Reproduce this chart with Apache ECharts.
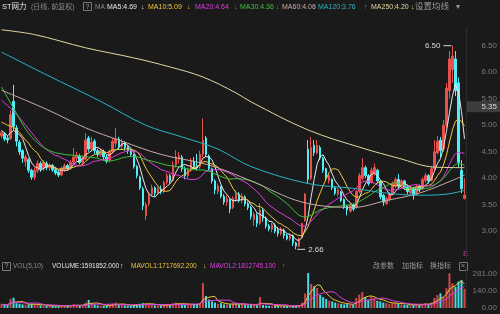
<!DOCTYPE html>
<html><head><meta charset="utf-8">
<script src="https://cdn.jsdelivr.net/npm/echarts/dist/echarts.min.js"></script>
<style>html,body{margin:0;padding:0;background:#1a1a1a;}#c{width:500px;height:314px;}</style>
</head><body><div id="c"></div>
<script>
// [open, close, low, high]
const ohlc = [
[4.80,4.86,4.76,4.90],[4.84,4.74,4.70,4.87],[4.76,4.72,4.66,4.80],[4.75,5.20,4.72,5.28],[5.45,4.98,4.90,5.76],
[4.95,4.70,4.60,5.00],[4.68,4.50,4.44,4.72],[4.52,4.38,4.29,4.55],[4.32,4.40,4.22,4.45],[4.35,4.15,4.10,4.38],
[4.15,4.02,3.97,4.18],[4.02,4.15,3.97,4.20],[4.14,4.28,4.10,4.34],[4.28,4.18,4.12,4.32],[4.18,4.30,4.14,4.34],
[4.28,4.20,4.15,4.32],[4.20,4.25,4.14,4.28],[4.24,4.16,4.12,4.27],[4.16,4.10,4.06,4.20],[4.12,4.06,4.02,4.15],
[4.06,4.18,4.04,4.22],[4.16,4.24,4.12,4.28],[4.24,4.18,4.14,4.27],[4.18,4.30,4.16,4.34],[4.30,4.40,4.26,4.57],
[4.38,4.44,4.32,4.50],[4.42,4.30,4.26,4.46],[4.30,4.38,4.24,4.42],[4.36,4.72,4.34,4.85],[4.76,4.55,4.50,4.80],
[4.55,4.68,4.50,4.78],[4.70,4.52,4.46,4.74],[4.52,4.45,4.40,4.56],[4.44,4.52,4.40,4.56],[4.50,4.40,4.34,4.54],
[4.40,4.32,4.28,4.44],[4.34,4.50,4.30,4.54],[4.50,4.70,4.46,4.76],[4.66,4.74,4.58,4.95],[4.74,4.60,4.55,4.78],
[4.60,4.68,4.54,4.74],[4.66,4.58,4.52,4.70],[4.60,4.52,4.46,4.62],[4.52,4.45,4.40,4.55],[4.44,4.22,4.18,4.46],
[4.22,4.05,4.00,4.25],[4.02,3.82,3.78,4.05],[3.80,3.48,3.40,3.84],[3.30,3.50,3.21,3.55],[3.52,3.70,3.48,3.74],
[3.70,3.82,3.66,3.88],[3.82,3.72,3.66,3.85],[3.72,3.80,3.68,3.84],[3.80,3.74,3.70,3.86],[3.76,3.92,3.72,3.96],
[3.92,4.05,3.88,4.10],[4.05,3.95,3.90,4.08],[3.96,4.25,3.94,4.32],[4.25,4.40,4.20,4.53],[4.36,4.42,4.28,4.50],
[4.40,4.18,4.12,4.44],[4.18,4.05,3.98,4.22],[4.05,4.15,4.00,4.20],[4.15,4.32,4.12,4.38],[4.32,4.22,4.18,4.40],
[4.24,4.20,4.15,4.46],[4.22,4.45,4.18,4.52],[4.45,4.72,4.40,5.13],[4.76,4.45,4.40,4.80],[4.42,4.18,4.15,4.45],
[4.18,3.95,3.90,4.20],[3.95,3.78,3.70,3.98],[3.75,3.85,3.70,3.90],[3.84,3.66,3.62,3.86],[3.66,3.55,3.50,3.70],
[3.55,3.62,3.48,3.68],[3.60,3.42,3.34,3.62],[3.45,3.62,3.42,3.66],[3.60,3.70,3.55,3.77],[3.70,3.58,3.54,3.74],
[3.58,3.66,3.53,3.72],[3.65,3.52,3.47,3.68],[3.52,3.45,3.40,3.56],[3.45,3.28,3.22,3.48],[3.22,3.32,3.10,3.36],
[3.30,3.15,3.08,3.34],[3.15,3.40,3.12,3.53],[3.40,3.25,3.18,3.44],[3.25,3.10,3.05,3.28],[3.10,3.04,3.00,3.14],
[3.04,3.12,2.98,3.16],[3.12,3.00,2.96,3.15],[3.02,2.96,2.90,3.08],[2.96,3.04,2.92,3.08],[3.02,2.92,2.86,3.05],
[2.92,2.86,2.83,2.95],[2.86,2.92,2.82,2.96],[2.92,2.78,2.72,2.94],[2.78,2.72,2.66,2.80],[2.72,2.86,2.70,2.88],
[2.88,3.15,2.86,3.16],[3.20,3.70,3.18,3.72],[4.55,3.98,3.90,4.72],[4.00,4.58,3.96,4.78],[4.62,4.48,4.42,4.72],
[4.48,4.62,4.45,4.72],[4.58,4.38,4.34,4.62],[4.38,4.15,4.10,4.40],[4.18,4.00,3.95,4.20],[3.95,4.05,3.90,4.10],
[3.98,3.82,3.78,4.00],[3.82,3.72,3.68,3.85],[3.70,3.78,3.66,3.82],[3.74,3.58,3.55,3.76],[3.60,3.45,3.42,3.62],
[3.48,3.40,3.30,3.50],[3.38,3.50,3.35,3.54],[3.50,3.42,3.38,3.53],[3.45,3.75,3.43,3.78],[3.75,4.05,3.72,4.10],
[4.00,4.20,3.96,4.38],[4.20,4.05,4.00,4.24],[4.05,3.90,3.86,4.08],[3.92,4.15,3.90,4.20],[4.10,4.20,4.05,4.28],
[4.15,3.95,3.90,4.18],[3.95,3.65,3.60,3.97],[3.68,3.55,3.48,3.70],[3.52,3.62,3.50,3.66],[3.60,3.70,3.56,3.74],
[3.70,3.90,3.68,3.94],[3.85,3.98,3.82,4.02],[3.98,3.85,3.80,4.08],[3.85,3.95,3.82,3.98],[3.95,3.82,3.78,3.97],
[3.85,3.75,3.70,3.88],[3.72,3.82,3.70,3.86],[3.82,3.68,3.60,3.84],[3.70,3.85,3.68,3.88],[3.85,3.78,3.74,3.88],
[3.80,3.98,3.78,4.02],[3.96,4.05,3.92,4.10],[4.05,3.95,3.90,4.08],[3.96,4.18,3.94,4.22],[4.18,4.50,4.15,4.72],
[4.48,4.70,4.45,4.80],[4.72,4.52,4.40,4.78],[4.55,5.00,4.50,5.10],[5.00,5.70,4.95,5.80],[5.65,6.25,5.50,6.40],
[6.05,6.30,5.80,6.50],[6.25,5.65,5.55,6.40],[5.80,4.30,4.20,5.90],[4.15,3.80,3.72,4.34],[3.62,3.68,3.60,4.00]
];
// volume (10k shares)
const volumes = [
30,28,25,75,85,40,35,30,28,30,35,32,
25,22,20,18,20,18,15,16,20,22,18,20,30,25,20,22,
45,66,40,30,22,20,18,20,
28,35,45,30,25,22,20,18,
25,30,35,40,38,
30,28,22,20,22,25,30,25,
40,45,35,30,25,28,35,30,28,40,
206,99,70,55,45,
35,40,30,28,30,35,40,30,32,25,22,
30,25,22,90,25,20,18,20,18,16,18,15,16,14,18,20,
25,45,120,289,200,180,165,107,90,75,60,
55,45,40,35,30,32,28,25,
83,110,132,90,70,95,80,
60,55,45,40,35,40,45,
35,30,28,25,22,28,30,25,35,40,30,45,
83,107,121,94,163,286,204,176,218,231,159.19
];
// MA values before a full window exists
const ma5Lead = [4.90,4.86,4.80,4.86];
const ma10Lead = [5.06,5.03,5.00,4.98,4.96,4.92,4.86,4.79,4.72];
const ma20Lead = [5.47,5.42,5.37,5.32,5.26,5.20,5.14,5.07,5.00,4.93,4.86,4.79,4.72,4.65,4.59,4.54,4.50,4.46,4.43];
const ma30Lead = [5.72,5.62,5.52,5.42,5.32,5.22,5.12,5.02,4.93,4.85,4.78,4.72,4.67,4.62,4.58,4.55,4.52,4.50,4.48,4.47,4.46,4.45,4.44,4.44,4.43,4.43,4.42,4.42,4.41];
// long MAs at [index, value]
const ma60Pts = [[0,5.66],[15,5.30],[28,4.95],[40,4.70],[53,4.45],[69,4.25],[83,3.95],[100,3.55],[117,3.45],[128,3.58],[139,3.72],[150,3.96],[154,4.06]];
const ma120Pts = [[0,6.38],[15,5.95],[33,5.45],[48,5.00],[60,4.78],[72,4.55],[83,4.22],[102,3.90],[117,3.81],[128,3.72],[139,3.68],[148,3.70],[154,3.77]];
const ma250Pts = [[0,6.80],[11,6.71],[28,6.46],[44,6.27],[56,6.10],[67,5.91],[78,5.61],[83,5.44],[102,4.91],[120,4.57],[132,4.38],[144,4.21],[154,4.20]];
const priceTickLabels = ['3.00','3.50','4.00','4.50','5.00','5.50','6.00','6.50'];
const volTickLabels = ['0.00','140.00','281.00'];
const hoverPrice = 5.35;

const UP='#e8504c', DOWN='#50eef6';
const C5='#e6e6e6', C10='#f0c63a', C20='#e03ee0', C30='#3cc03c', C60='#c9aaa6', C120='#2cb4c4', C250='#e2d8a0';
const FONT='"Liberation Sans","DejaVu Sans","Noto Sans CJK SC",sans-serif';

const closes = ohlc.map(d=>d[1]);
const cats = ohlc.map((d,i)=>String(i));
function maFull(n, lead){ return closes.map((c,i)=>{ if(i<n-1) return lead[i]; let s=0; for(let k=i-n+1;k<=i;k++) s+=closes[k]; return +(s/n).toFixed(3);}); }
function smaPartial(arr,n){ return arr.map((v,i)=>{ const a=arr.slice(Math.max(0,i-n+1),i+1); return +(a.reduce((x,y)=>x+y,0)/a.length).toFixed(2);}); }

const chart = echarts.init(document.getElementById('c'), null, {renderer:'canvas'});

function T(x,y,s,color,size,align){ return {type:'text', x:x, y:y, silent:true, style:{text:s, fill:color, font: size+'px '+FONT, textAlign:align||'left', align:align||'left', textVerticalAlign:'middle', verticalAlign:'middle'}}; }
function box(x,y,w,h,color){ return {type:'rect', shape:{x:x,y:y,width:w,height:h}, silent:true, style:{fill:'none', stroke:color, lineWidth:1}}; }

const graphics = [
  T(2,7,'ST网力','#e8e8e8',7.5),
  T(31,7,'(日线, 前复权)','#8a8a8a',7),
  box(83.5,2.5,8,8,'#777'), T(85.5,7,'?','#999',7),
  T(95,7,'MA','#8a8a8a',6.5),
  T(107,7,'MA5:4.69',C5,7), T(141,7,'↓',C5,7),
  T(148,7,'MA10:5.09',C10,7), T(187,7,'↓',C10,7),
  T(195,7,'MA20:4.64',C20,7), T(234,7,'↓',C20,7),
  T(240,7,'MA30:4.36',C30,7), T(276,7,'↓',C30,7),
  T(282,7,'MA60:4.06',C60,7), T(313,7,'↑',C60,7),
  T(318,7,'MA120:3.76',C120,7), T(364,7,'↑',C120,7),
  T(371,7,'MA250:4.20',C250,7), T(411,7,'↓',C250,7),
  T(415,7,'设置均线','#9a9a9a',8.5), T(456,7,'▾','#9a9a9a',8),
  box(2.5,262.5,8,8,'#777'), T(4.5,266.5,'?','#999',7),
  T(13,266.5,'VOL(5,10)','#8a8a8a',6.5),
  T(52,266.5,'VOLUME:1591852.000','#e6e6e6',6.5), T(120,266.5,'↑','#e6e6e6',7),
  T(131,266.5,'MAVOL1:1717692.200',C10,6.5), T(203,266.5,'↓',C10,7),
  T(210,266.5,'MAVOL2:1812745.100',C20,6.5), T(282,266.5,'↑',C20,7),
  T(373,266.5,'改参数','#9a9a9a',7), T(402,266.5,'加指标','#9a9a9a',7), T(430,266.5,'换指标','#9a9a9a',7),
  box(459.5,262.5,8,8,'#777'), T(461,266.5,'×','#999',7),
  T(463,254,'E','#d0309a',8)
];

const option = {
  backgroundColor:'#1a1a1a',
  animation:false,
  textStyle:{fontFamily:FONT},
  grid:[{left:0,right:34,top:28.2,height:229.6},{left:0,right:34,top:268,height:40}],
  xAxis:[
    {type:'category',data:cats,gridIndex:0,boundaryGap:true,axisLine:{show:false},axisTick:{show:false},axisLabel:{show:false},splitLine:{show:false}},
    {type:'category',data:cats,gridIndex:1,boundaryGap:true,axisLine:{show:false},axisTick:{show:false},axisLabel:{show:false},splitLine:{show:false}}
  ],
  yAxis:[
    {type:'value',gridIndex:0,position:'right',min:2.5,max:6.83,interval:0.5,scale:true,
     axisLine:{show:true,lineStyle:{color:'#2c2c2c'}},axisTick:{show:false},splitLine:{show:false},
     axisLabel:{color:'#7c7c7c',fontSize:8,align:'right',margin:31,showMinLabel:false,showMaxLabel:false,
       formatter:v=>{const k=Math.round((v-3)/0.5); return (k>=0&&k<priceTickLabels.length&&Math.abs(v-3-k*0.5)<1e-6)?priceTickLabels[k]:'';}}},
    {type:'value',gridIndex:1,position:'right',min:0,max:330.6,interval:140.5,
     axisLine:{show:true,lineStyle:{color:'#2c2c2c'}},axisTick:{show:false},splitLine:{show:false},
     axisLabel:{color:'#7c7c7c',fontSize:8,align:'right',margin:31,showMaxLabel:false,
       formatter:v=>{const k=Math.round(v/140.5); return (Math.abs(v-k*140.5)<1e-6&&k<volTickLabels.length)?volTickLabels[k]:'';}}}
  ],
  series:[
    {type:'candlestick',name:'K',xAxisIndex:0,yAxisIndex:0,data:ohlc,barWidth:2,
     itemStyle:{color:UP,color0:DOWN,borderColor:UP,borderColor0:DOWN,borderWidth:1},
     markPoint:{symbol:'rect',symbolSize:[8,1],silent:true,
       itemStyle:{color:'#d8d8d8'},
       label:{color:'#d8d8d8',fontSize:8,fontFamily:FONT,distance:3},
       data:[
        {type:'max',valueDim:'highest',symbolOffset:[-5,0],label:{show:true,position:'left',formatter:p=>Number(p.value).toFixed(2)}},
        {type:'min',valueDim:'lowest',symbolOffset:[5,0],label:{show:true,position:'right',formatter:p=>Number(p.value).toFixed(2)}}
       ]}},
    {type:'line',name:'MA5',data:maFull(5,ma5Lead),showSymbol:false,lineStyle:{width:1,color:C5},itemStyle:{color:C5}},
    {type:'line',name:'MA10',data:maFull(10,ma10Lead),showSymbol:false,lineStyle:{width:1,color:C10},itemStyle:{color:C10}},
    {type:'line',name:'MA20',data:maFull(20,ma20Lead),showSymbol:false,lineStyle:{width:1,color:C20},itemStyle:{color:C20}},
    {type:'line',name:'MA30',data:maFull(30,ma30Lead),showSymbol:false,lineStyle:{width:1,color:C30},itemStyle:{color:C30}},
    {type:'line',name:'MA60',data:ma60Pts,smooth:0.35,showSymbol:false,lineStyle:{width:1,color:C60},itemStyle:{color:C60}},
    {type:'line',name:'MA120',data:ma120Pts,smooth:0.35,showSymbol:false,lineStyle:{width:1,color:C120},itemStyle:{color:C120}},
    {type:'line',name:'MA250',data:ma250Pts,smooth:0.35,showSymbol:false,lineStyle:{width:1,color:C250},itemStyle:{color:C250}},
    {type:'bar',name:'VOL',xAxisIndex:1,yAxisIndex:1,barWidth:2,
     data:volumes.map((v,i)=>({value:v,itemStyle:{color: ohlc[i][1]>=ohlc[i][0]?'#d04848':'#44dde6'}}))},
    {type:'line',name:'MAVOL1',xAxisIndex:1,yAxisIndex:1,data:smaPartial(volumes,5),showSymbol:false,lineStyle:{width:1,color:C10}},
    {type:'line',name:'MAVOL2',xAxisIndex:1,yAxisIndex:1,data:smaPartial(volumes,10),showSymbol:false,lineStyle:{width:1,color:C20}}
  ],
  graphic: graphics
};
chart.setOption(option);
const hy = chart.convertToPixel({yAxisIndex:0}, hoverPrice);
chart.setOption({graphic: graphics.concat([
  {type:'rect',shape:{x:467,y:hy-5.5,width:33,height:11},silent:true,style:{fill:'rgba(85,85,85,0.6)'}},
  T(497,hy,hoverPrice.toFixed(2),'#d8d8d8',8,'right')
])});
</script></body></html>
